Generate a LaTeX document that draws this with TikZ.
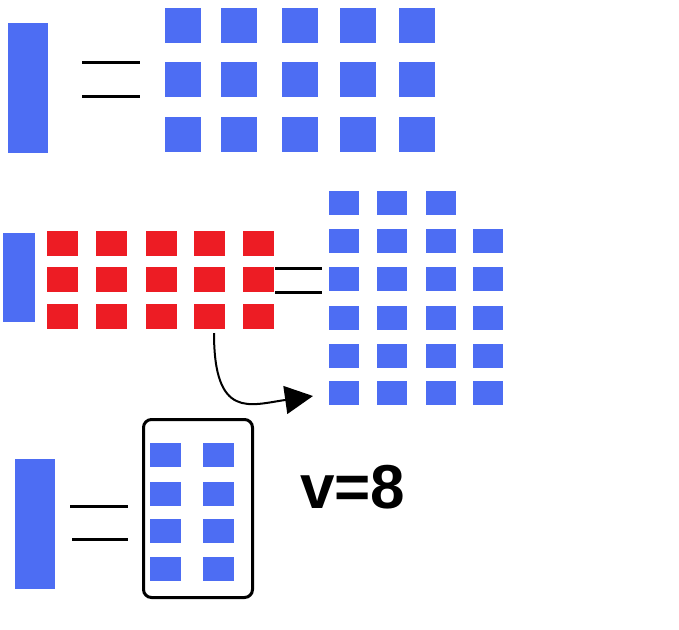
\documentclass[tikz,border=0pt]{standalone}
\usepackage{fontspec}
\setmainfont{Liberation Sans}
\usetikzlibrary{arrows.meta}
\definecolor{bl}{HTML}{4D6DF3}
\definecolor{rd}{HTML}{ED1C24}
\begin{document}
\begin{tikzpicture}[x=1pt,y=-1pt,
 eqline/.style={line width=3pt,black}]
\useasboundingbox[fill=white] (0,0) rectangle (679,629);
% top
\fill[bl] (8,23) rectangle (48,153);
\draw[eqline] (82,62) -- (140,62);
\draw[eqline] (82,96) -- (140,96);
\foreach \x in {165,221,282,340,399}
 \foreach \y in {8,62,117}
  \fill[bl] (\x,\y) rectangle ++(36,35);
% middle
\fill[bl] (3,233) rectangle (35,322);
\foreach \x in {47,96,146,194,243}
 \foreach \y in {231,267,304}
  \fill[rd] (\x,\y) rectangle ++(31,25);
\draw[eqline] (275,268) -- (322,268);
\draw[eqline] (275,292) -- (322,292);
\foreach \x in {329,377,426}
  \fill[bl] (\x,191) rectangle ++(30,24);
\foreach \x in {329,377,426,473}
 \foreach \y in {229,267,306,344,381}
  \fill[bl] (\x,\y) rectangle ++(30,24);
\coordinate (as) at (214,333);
\coordinate (ae) at (313,396);
\draw[line width=2pt,-{Triangle[length=28pt,width=28pt]}] (as) .. controls (214,420) and (250,405) .. (ae);
% bottom
\fill[bl] (15,459) rectangle (55,589);
\draw[eqline] (70,506) -- (128,506);
\draw[eqline] (72,539) -- (128,539);
\node[draw,line width=3pt,rounded corners=8pt,minimum width=109pt,minimum height=178pt,inner sep=0] (box) at (198,508.5) {};
\foreach \x in {150,203}
 \foreach \y in {443,482,519,557}
  \fill[bl] (\x,\y) rectangle ++(31,24);
\node[font=\bfseries\fontsize{62}{66}\selectfont,anchor=base west,inner sep=0] (v) at (300,508) {v=8};
\end{tikzpicture}
\end{document}
